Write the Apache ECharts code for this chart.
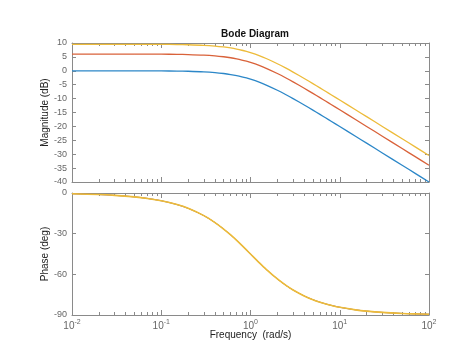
<!DOCTYPE html>
<html><head><meta charset="utf-8">
<script src="https://cdn.jsdelivr.net/npm/echarts@6/dist/echarts.min.js"></script>
<style>html,body{margin:0;padding:0;background:#fff}#c{width:474px;height:355px}</style>
</head><body><div id="c"></div>
<script>
// Frequencies (rad/s)
const freq = [0.01,0.02,0.03,0.05,0.07,0.1,0.15,0.2,0.3,0.4,0.5,0.6,0.7,0.8,0.9,1,1.25,1.5,2,2.5,3,4,5,6,7,8,10,15,20,30,50,70,100];
// Magnitude (dB)
const magBlue = [0,0,0,-0.01,-0.02,-0.04,-0.10,-0.17,-0.37,-0.64,-0.97,-1.34,-1.73,-2.15,-2.58,-3.01,-4.09,-5.12,-6.99,-8.60,-10.0,-12.30,-14.15,-15.68,-16.99,-18.13,-20.04,-23.54,-26.03,-29.55,-33.98,-36.90,-40.0];
const magRed = [6.02,6.02,6.02,6.01,6.00,5.98,5.92,5.85,5.65,5.38,5.05,4.69,4.29,3.87,3.44,3.01,1.93,0.90,-0.97,-2.58,-3.98,-6.28,-8.13,-9.66,-10.97,-12.11,-14.02,-17.52,-20.01,-23.53,-27.96,-30.88,-33.98];
const magYellow = [9.54,9.54,9.54,9.53,9.52,9.50,9.44,9.37,9.17,8.90,8.57,8.21,7.81,7.39,6.96,6.53,5.45,4.42,2.55,0.94,-0.46,-2.76,-4.61,-6.14,-7.45,-8.59,-10.50,-14.00,-16.49,-20.01,-24.44,-27.36,-30.46];
// Phase (deg), identical for the three systems
const phase = [-0.57,-1.15,-1.72,-2.86,-4.00,-5.71,-8.53,-11.31,-16.70,-21.80,-26.57,-30.96,-34.99,-38.66,-41.99,-45.0,-51.34,-56.31,-63.43,-68.20,-71.57,-75.96,-78.69,-80.54,-81.87,-82.87,-84.29,-86.19,-87.14,-88.09,-88.85,-89.18,-89.43];
// Tick values
const majorFreqTicks = [0.01,0.1,1,10,100];
const minorFreqTicks = [];
[0.01,0.1,1,10].forEach(d => { for (let k = 2; k <= 9; k++) minorFreqTicks.push(+(d*k).toPrecision(3)); });
const magTicks = {min:-40, max:10, interval:5};
const phaseTicks = {min:-90, max:0, interval:30};
const titleText = 'Bode Diagram';
const xName = 'Frequency  (rad/s)';
const magName = 'Magnitude (dB)';
const phaseName = 'Phase (deg)';

const colors = ['#2c87c8', '#d9623a', '#edbb3a'];
const axisGrey = '#8a8a8a';
const labelGrey = '#666';
const font = 'Liberation Sans, Arial, sans-serif';

const xAxes = [];
[0,1].forEach(g => {
  ['bottom','top'].forEach(pos => {
    const showLab = (g === 1 && pos === 'bottom');
    xAxes.push({
      type:'log', logBase:10, min:0.01, max:100, gridIndex:g, position:pos,
      axisLine:{show:true, onZero:false, lineStyle:{color:axisGrey, width:1}},
      axisTick:{show:true, inside:true, length:5, lineStyle:{color:axisGrey}, customValues:majorFreqTicks},
      axisLabel:{show:showLab, margin:4, color:labelGrey, fontFamily:font,
        customValues:majorFreqTicks,
        formatter: v => '{b|10}{s|' + Math.round(Math.log10(v)) + '}',
        rich:{b:{fontSize:10, color:labelGrey, fontFamily:font, verticalAlign:'bottom', lineHeight:12},
              s:{fontSize:7, color:labelGrey, fontFamily:font, verticalAlign:'top', lineHeight:12}}},
      splitLine:{show:false},
      name: showLab ? xName : '', nameLocation:'middle', nameGap:15, nameMoveOverlap:false,
      nameTextStyle:{color:'#222', fontSize:10, fontFamily:font, verticalAlign:'top'}
    });
    xAxes.push({
      type:'log', logBase:10, min:0.01, max:100, gridIndex:g, position:pos,
      axisLine:{show:false, onZero:false},
      axisTick:{show:true, inside:true, length:3, lineStyle:{color:axisGrey}, customValues:minorFreqTicks},
      axisLabel:{show:false}, splitLine:{show:false}
    });
  });
});

const yAxes = [];
[[0, magTicks, magName],[1, phaseTicks, phaseName]].forEach(([g, t, nm]) => {
  yAxes.push({
    type:'value', gridIndex:g, position:'left', min:t.min, max:t.max, interval:t.interval,
    axisLine:{show:true, onZero:false, lineStyle:{color:axisGrey}},
    axisTick:{show:true, inside:true, length:4, lineStyle:{color:axisGrey}},
    axisLabel:{color:labelGrey, fontSize:9, fontFamily:font, margin:5},
    splitLine:{show:false},
    name:nm, nameLocation:'middle', nameGap:22, nameMoveOverlap:false,
    nameTextStyle:{color:'#222', fontSize:10, fontFamily:font}
  });
  yAxes.push({
    type:'value', gridIndex:g, position:'right', min:t.min, max:t.max, interval:t.interval,
    axisLine:{show:true, onZero:false, lineStyle:{color:axisGrey}},
    axisTick:{show:true, inside:true, length:4, lineStyle:{color:axisGrey}},
    axisLabel:{show:false}, splitLine:{show:false}
  });
});

const pair = arr => freq.map((f,i) => [f, arr[i]]);
const lineSeries = (data, color, xi, yi, w) => ({
  type:'line', xAxisIndex:xi, yAxisIndex:yi, data:pair(data), showSymbol:false,
  smooth:0.3, lineStyle:{color:color, width:w}, itemStyle:{color:color}, z:3, silent:true,
  clip:true
});

const series = [
  lineSeries(magBlue, colors[0], 0, 0, 1.3),
  lineSeries(magRed, colors[1], 0, 0, 1.3),
  lineSeries(magYellow, colors[2], 0, 0, 1.3),
  lineSeries(phase, colors[0], 4, 2, 0.8),
  lineSeries(phase, colors[1], 4, 2, 0.8),
  lineSeries(phase, colors[2], 4, 2, 1.6)
];

const chart = echarts.init(document.getElementById('c'), null, {renderer:'canvas'});
chart.setOption({
  animation:false,
  backgroundColor:'#fff',
  title:{text:titleText, left:250, top:24, textAlign:'center',
    textStyle:{fontSize:10, fontWeight:'bold', color:'#111', fontFamily:font}},
  grid:[
    {left:72, top:43, width:357, height:139, containLabel:false},
    {left:72, top:193, width:357, height:122, containLabel:false}
  ],
  xAxis:xAxes,
  yAxis:yAxes,
  series:series
});
</script>
</body></html>
